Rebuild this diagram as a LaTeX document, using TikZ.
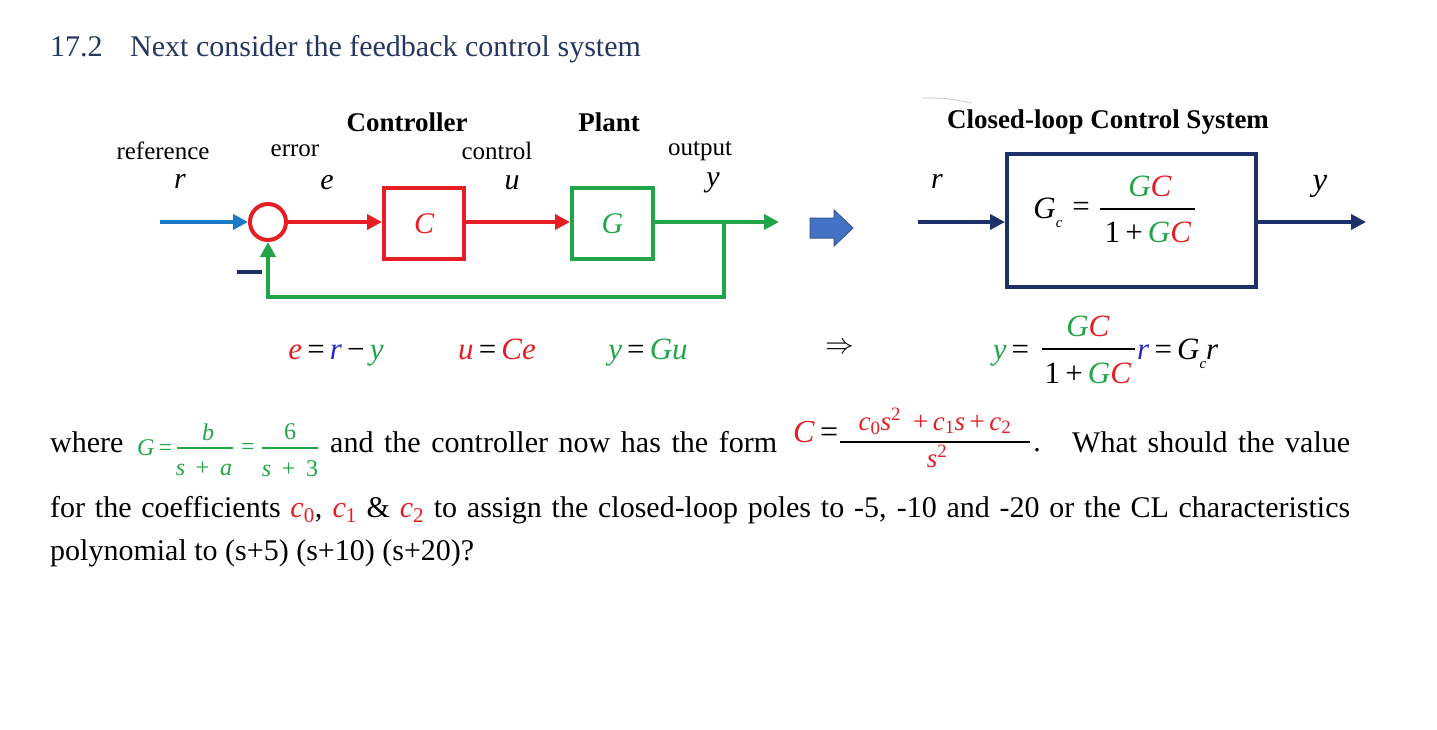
\documentclass[tikz,border=0pt]{standalone}
\usepackage{fontspec}
\usepackage{graphicx}
\setmainfont{Liberation Serif}
\usetikzlibrary{arrows.meta}
\definecolor{cred}{RGB}{228,30,36}
\definecolor{cgreen}{RGB}{34,165,72}
\definecolor{cblue}{RGB}{30,120,200}
\definecolor{cnavy}{RGB}{28,48,105}
\definecolor{ctitle}{RGB}{38,55,95}
\definecolor{cbarrow}{RGB}{68,114,196}
\definecolor{cr}{RGB}{40,40,210}
\newcommand{\mi}[1]{\textit{#1}}
\tikzset{
  txt/.style={inner sep=0pt, font=\fontsize{30}{36}\selectfont},
  lbl/.style={inner sep=0pt, font=\fontsize{25}{30}\selectfont},
  hdr/.style={inner sep=0pt, font=\fontsize{27}{32}\selectfont\bfseries},
  var/.style={inner sep=0pt, font=\fontsize{30}{36}\selectfont\itshape},
  eqn/.style={inner sep=0pt, font=\fontsize{31}{36}\selectfont},
  sml/.style={inner sep=0pt, font=\fontsize{24}{28}\selectfont},
  wire/.style={line width=4pt},
  blk/.style={draw, line width=4pt, inner sep=0pt},
  tip/.style={-{Triangle[length=15pt,width=15pt]}},
  fbar/.style={line width=1.3pt}
}
\begin{document}
\begin{tikzpicture}[x=1pt,y=-1pt]
\useasboundingbox (0,0) rectangle (1437,729);

% title
\node[txt, anchor=base west, text=ctitle] (num) at (50,56) {17.2};
\node[txt, anchor=base west, text=ctitle] (title) at (130,56) {Next consider the feedback control system};

% headers
\node[hdr] (hctrl) at (407,122) {Controller};
\node[hdr] (hplant) at (609,122) {Plant};
\node[hdr] (hcl) at (1108,122) {Closed-loop Control System};
\draw[gray!35, line width=1pt] (922,98) .. controls (945,98) .. (972,103);

% signal labels
\node[lbl] (lref) at (163,151) {reference};
\node[lbl] (lerr) at (295,151) {error};
\node[lbl] (lctl) at (497,151) {control};
\node[lbl] (lout) at (700,151) {output};
\node[var] (vr) at (180,181) {r};
\node[var] (ve) at (327,183) {e};
\node[var] (vu) at (512,183) {u};
\node[var] (vy) at (713,183) {y};

% blocks
\node[circle, draw=cred, line width=4pt, minimum size=36pt, inner sep=0pt] (sum) at (268,222) {};
\node[blk, draw=cred, minimum width=80pt, minimum height=71pt, var, text=cred] (C) at (424,223.5) {C};
\node[blk, draw=cgreen, minimum width=81pt, minimum height=71pt, var, text=cgreen] (G) at (612.5,223.5) {G};

\coordinate (rin) at (160,222);
\coordinate (yout) at (779,222);
\coordinate (tap) at (724,222);
\coordinate (fb) at (724,297);
\draw[wire, cblue, tip] (rin) -- (sum.west);
\draw[wire, cred, tip] (sum.east) -- (C.west |- sum.east);
\draw[wire, cred, tip] (C.east |- sum.east) -- (G.west |- sum.east);
\draw[wire, cgreen, tip] (G.east |- tap) -- (yout);
\draw[wire, cgreen, tip] (tap) -- (fb) -| (sum.south);
\draw[cnavy, line width=4.5pt] (237,272) -- (262,272);

% big arrow
\filldraw[fill=cbarrow, draw=cbarrow!75!black, line width=1pt]
  (810,218) -- (834,218) -- (834,210) -- (853,228) -- (834,246) -- (834,238) -- (810,238) -- cycle;

% closed loop block
\node[blk, draw=cnavy, minimum width=249pt, minimum height=133pt] (CL) at (1131.5,220.5) {};
\coordinate (clin) at (918,222);
\coordinate (clout) at (1366,222);
\draw[wire, cnavy, tip] (clin) -- (clin -| CL.west);
\draw[wire, cnavy, tip] (clout -| CL.east) -- (clout);
\node[var] (clr) at (937,181) {r};
\node[var, font=\fontsize{33}{38}\selectfont\itshape] (cly) at (1320,186) {y};
\node[eqn, anchor=base] (gc) at (1048,218) {\mi{G}\raisebox{-0.3em}{\fontsize{15}{18}\selectfont\mi{c}}};
\node[eqn] (gceq) at (1081,209) {=};
\draw[fbar] (1100,209) -- (1195,209);
\node[eqn] (gcnum) at (1150,186) {\textcolor{cgreen}{\mi{G}}\textcolor{cred}{\mi{C}}};
\node[eqn] (gcden) at (1148,232) {1\,+\,\textcolor{cgreen}{\mi{G}}\textcolor{cred}{\mi{C}}};

% equations row
\node[eqn, anchor=base] (eq1) at (336,359) {\textcolor{cred}{\mi{e}}\,=\,\textcolor{cr}{\mi{r}}\,−\,\textcolor{cgreen}{\mi{y}}};
\node[eqn, anchor=base] (eq2) at (497,359) {\textcolor{cred}{\mi{u}}\,=\,\textcolor{cred}{\mi{Ce}}};
\node[eqn, anchor=base] (eq3) at (648,359) {\textcolor{cgreen}{\mi{y}}\,=\,\textcolor{cgreen}{\mi{Gu}}};
\node[inner sep=0pt, font=\fontsize{24}{28}\selectfont] (impl) at (840,348) {\scalebox{1.15}{$\Rightarrow$}};
\node[eqn, anchor=base] (eqy) at (1011,359) {\textcolor{cgreen}{\mi{y}}\,=};
\draw[fbar] (1042,349) -- (1135,349);
\node[eqn] (eqnum) at (1088,326) {\textcolor{cgreen}{\mi{G}}\textcolor{cred}{\mi{C}}};
\node[eqn] (eqden) at (1088,373) {1\,+\,\textcolor{cgreen}{\mi{G}}\textcolor{cred}{\mi{C}}};
\node[eqn, anchor=base west] (eqr) at (1137,359) {\textcolor{cr}{\mi{r}}\,=\,\mi{G}\raisebox{-0.3em}{\fontsize{15}{18}\selectfont\mi{c}}\mi{r}};

% text line 1
\node[txt, anchor=base west] (where) at (50,452) {where};
\node[sml, anchor=base west, text=cgreen] (geq) at (137,455) {\mi{G}\,=};
\draw[fbar, cgreen] (177,448) -- (233,448);
\node[sml, text=cgreen] (gnum1) at (208,432) {\mi{b}};
\node[sml, text=cgreen] (gden1) at (204,469) {\mi{s}\;\,+\;\,\mi{a}};
\node[sml, text=cgreen] (geq2) at (248,449) {=};
\draw[fbar, cgreen] (262,448) -- (318,448);
\node[sml, text=cgreen] (gnum2) at (290,432) {6};
\node[sml, text=cgreen] (gden2) at (290,469) {\mi{s}\;\,+\;\,3};
\node[txt, anchor=base west] (and) at (330,452) {\hbox to 447pt{and the controller now has the form}};
\node[eqn, anchor=base west, font=\fontsize{32}{36}\selectfont] (ceq) at (793,442) {\textcolor{cred}{\mi{C}}\,=};
\draw[fbar] (840,442) -- (1030,442);
\node[inner sep=0pt, font=\fontsize{27}{30}\selectfont, anchor=base, text=cred] (cnum) at (935,430) {\mi{c}\textsubscript{0}\mi{s}\textsuperscript{2}\;\,+\,\mi{c}\textsubscript{1}\mi{s}\,+\,\mi{c}\textsubscript{2}};
\node[inner sep=0pt, font=\fontsize{27}{30}\selectfont, anchor=base, text=cred] (cden) at (937,467) {\mi{s}\textsuperscript{2}};
\node[txt, anchor=base] (dot) at (1037,451) {.};
\node[txt, anchor=base west] (what) at (1072,452) {\hbox to 278pt{What should the value}};

% text line 2
\node[txt, anchor=base west] (line2) at (50,517) {\hbox to 1300pt{for the coefficients \textcolor{cred}{\mi{c}\textsubscript{0}}, \textcolor{cred}{\mi{c}\textsubscript{1}} \& \textcolor{cred}{\mi{c}\textsubscript{2}} to assign the closed-loop poles to -5, -10 and -20 or the CL characteristics}};
% text line 3
\node[txt, anchor=base west] (line3) at (50,560) {polynomial to (s+5) (s+10) (s+20)?};
\end{tikzpicture}
\end{document}
